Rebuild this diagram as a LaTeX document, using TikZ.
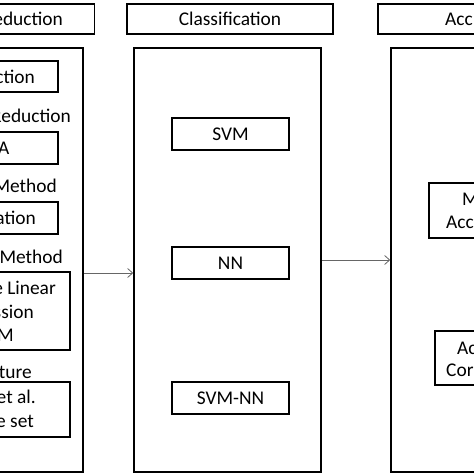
\documentclass[tikz,border=0pt]{standalone}
\usepackage{fontspec}
\setmainfont{Carlito}
\usetikzlibrary{arrows.meta}
\begin{document}
\begin{tikzpicture}[x=1pt,y=-1pt,
	box/.style={draw,line width=1.6pt,inner sep=0pt},
	txt/.style={inner sep=0pt,font=\fontsize{19.4}{23}\selectfont},
	link/.style={draw=black!60,line width=0.8pt,-{Straight Barb[length=5pt,width=9pt]}}]
	\useasboundingbox (0,0) rectangle (474,474);
	\clip (0,0) rectangle (474,474);
	% left column
	\node[box,minimum width=224.5,minimum height=30] (ltitle) at (-17.75,19) {};
	\node[box,minimum width=193,minimum height=424] (lbig) at (-13.5,260) {};
	\node[box,minimum width=178,minimum height=31] (lext) at (-31,76.5) {};
	\node[box,minimum width=178,minimum height=32] (lpca) at (-31,148) {};
	\node[box,minimum width=178,minimum height=32] (lcor) at (-31,218) {};
	\node[box,minimum width=148,minimum height=78] (lmlr) at (-4,311) {};
	\node[box,minimum width=170,minimum height=55] (llit) at (-15,409.5) {};
	\node[txt,anchor=east] (tl1) at (63,19) {Reduction};
	\node[txt,anchor=east] (tl2) at (35,77) {ction};
	\node[txt,anchor=east] (tl3) at (71,116) {Reduction};
	\node[txt,anchor=east] (tl4) at (9.5,148) {A};
	\node[txt,anchor=east] (tl5) at (57,186) {Method};
	\node[txt,anchor=east] (tl6) at (36,218) {ation};
	\node[txt,anchor=east] (tl7) at (63,257) {Method};
	\node[txt,anchor=east] (tl8) at (56,288) {e Linear};
	\node[txt,anchor=east] (tl9) at (34,312) {ssion};
	\node[txt,anchor=east] (tl10) at (14,335) {M};
	\node[txt,anchor=east] (tl11) at (32,372) {ture};
	\node[txt,anchor=east] (tl12) at (36,397) {et al.};
	\node[txt,anchor=east] (tl13) at (34,421) {e set};
	% middle column
	\node[box,txt,minimum width=206,minimum height=30.5] (ctitle) at (230,19) {Classification};
	\node[box,minimum width=187,minimum height=424] (cbig) at (227.5,260) {};
	\node[box,txt,minimum width=117,minimum height=32] (svm) at (230.5,134) {SVM};
	\node[box,txt,minimum width=117,minimum height=32] (nn) at (230.5,263) {NN};
	\node[box,txt,minimum width=117,minimum height=32] (svmnn) at (230.5,398) {SVM-NN};
	% right column
	\node[box,minimum width=222,minimum height=30] (rtitle) at (489,19) {};
	\node[box,minimum width=209,minimum height=424] (rbig) at (495.5,260) {};
	\node[box,minimum width=131,minimum height=55] (racc) at (494.5,210.5) {};
	\node[box,minimum width=120,minimum height=54] (rcor) at (495,358) {};
	\node[txt,anchor=west] (tr1) at (445,19) {Acc};
	\node[txt,anchor=west] (tr2) at (462,199) {M};
	\node[txt,anchor=west] (tr3) at (446,222) {Acc};
	\node[txt,anchor=west] (tr4) at (457,348) {Ac};
	\node[txt,anchor=west] (tr5) at (446,370) {Cor};
	% links
	\draw[link] ([yshift=-13pt]lbig.east) -- ([yshift=-13pt]cbig.west);
	\draw[link] (cbig.east) -- (rbig.west);
\end{tikzpicture}
\end{document}
